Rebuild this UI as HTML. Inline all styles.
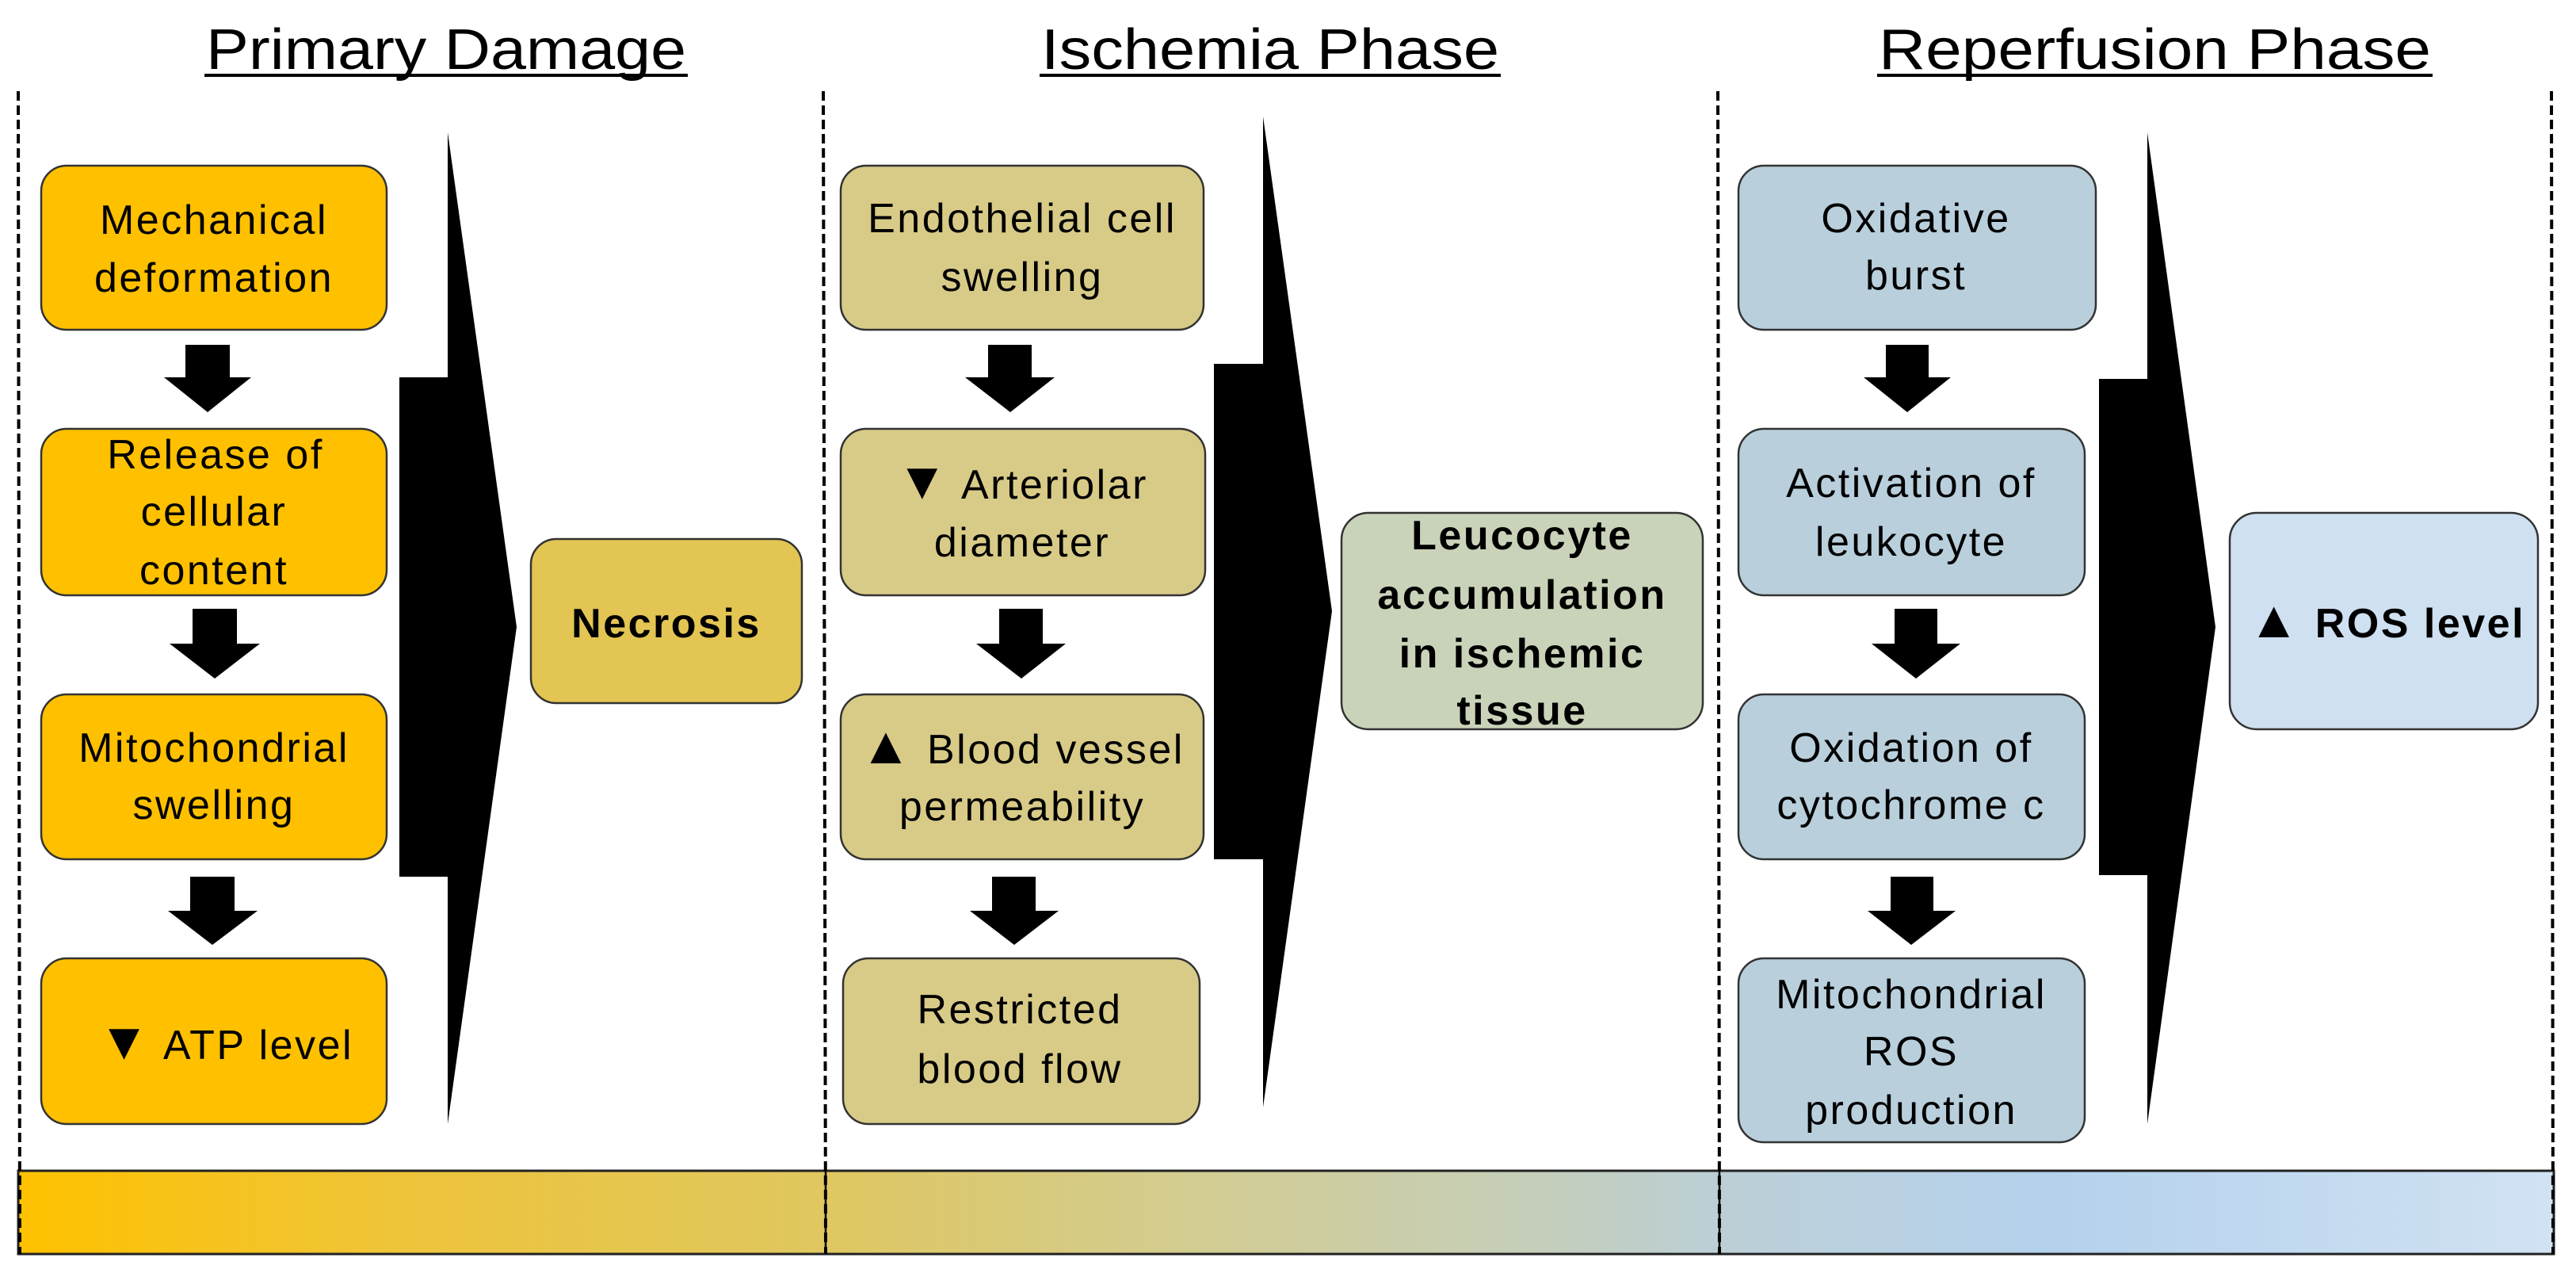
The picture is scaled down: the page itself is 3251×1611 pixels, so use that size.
<!DOCTYPE html>
<html><head><meta charset="utf-8"><style>
html,body{margin:0;padding:0;background:#fff;}
svg{display:block;}
text{font-family:"Liberation Sans",sans-serif;fill:#000;}
.t{font-size:52px;text-anchor:middle;letter-spacing:2.5px;}
.b{font-weight:bold;}
.h{font-size:72px;}
.tri{font-size:66px;}
</style></head><body>
<svg width="3251" height="1611" viewBox="0 0 3251 1611" xmlns="http://www.w3.org/2000/svg">
<defs>
<linearGradient id="g" x1="0" x2="1" y1="0" y2="0">
<stop offset="0" stop-color="#ffc200"/>
<stop offset="0.15" stop-color="#eec43a"/>
<stop offset="0.31" stop-color="#e0c75e"/>
<stop offset="0.46" stop-color="#d3cc90"/>
<stop offset="0.6" stop-color="#c4ceba"/>
<stop offset="0.67" stop-color="#bccfd6"/>
<stop offset="0.8" stop-color="#b4d1ec"/>
<stop offset="1" stop-color="#d1e2f3"/>
</linearGradient>
</defs>
<text class="h" x="260" y="87" textLength="606" lengthAdjust="spacingAndGlyphs">Primary Damage</text>
<rect x="258" y="93" width="610" height="4" fill="#000"/>
<text class="h" x="1314" y="87" textLength="578" lengthAdjust="spacingAndGlyphs">Ischemia Phase</text>
<rect x="1312" y="93" width="582" height="4" fill="#000"/>
<text class="h" x="2371" y="87" textLength="697" lengthAdjust="spacingAndGlyphs">Reperfusion Phase</text>
<rect x="2369" y="93" width="701" height="4" fill="#000"/>
<rect x="23" y="1477" width="3200" height="105" fill="url(#g)" stroke="#222" stroke-width="3"/>
<g stroke="#000" stroke-width="4" stroke-dasharray="12,6">
<line x1="23" y1="115" x2="25" y2="1582"/>
<line x1="1039" y1="115" x2="1042" y2="1582"/>
<line x1="2168" y1="115" x2="2170" y2="1582"/>
<line x1="3220" y1="115" x2="3222" y2="1582"/>
</g>
<g stroke="#000" stroke-width="2.5">
<line x1="1042" y1="1477" x2="1042" y2="1582"/>
<line x1="2170" y1="1477" x2="2170" y2="1582"/>
</g>
<g fill="#ffc000" stroke="#333" stroke-width="2.5">
<rect x="52" y="209" width="436" height="207" rx="32"/>
<rect x="52" y="541" width="436" height="210" rx="32"/>
<rect x="52" y="876" width="436" height="208" rx="32"/>
<rect x="52" y="1209" width="436" height="209" rx="32"/>
</g>
<rect x="670" y="680" width="342" height="207" rx="32" fill="#e3c553" stroke="#333" stroke-width="2.5"/>
<text class="t" x="270" y="295">Mechanical</text><text class="t" x="270" y="368">deformation</text>
<text class="t" x="272" y="591">Release of</text><text class="t" x="270" y="663">cellular</text><text class="t" x="270" y="737">content</text>
<text class="t" x="270" y="961">Mitochondrial</text><text class="t" x="270" y="1033">swelling</text>
<text class="t" x="285" y="1336"><tspan class="tri">▼</tspan> ATP level</text>
<text class="t b" x="841" y="804">Necrosis</text>
<g fill="#d8cb87" stroke="#333" stroke-width="2.5">
<rect x="1061" y="209" width="458" height="207" rx="32"/>
<rect x="1061" y="541" width="460" height="210" rx="32"/>
<rect x="1061" y="876" width="458" height="208" rx="32"/>
<rect x="1064" y="1209" width="450" height="209" rx="32"/>
</g>
<rect x="1693" y="647" width="456" height="273" rx="34" fill="#c9d3b9" stroke="#333" stroke-width="2.5"/>
<text class="t" x="1290" y="293">Endothelial cell</text><text class="t" x="1290" y="367">swelling</text>
<text class="t" x="1290" y="629"><tspan class="tri">▼</tspan> Arteriolar</text><text class="t" x="1290" y="702">diameter</text>
<text class="t" x="1290" y="963"><tspan class="tri">▲</tspan> Blood vessel</text><text class="t" x="1290" y="1035">permeability</text>
<text class="t" x="1287" y="1291">Restricted</text><text class="t" x="1287" y="1366">blood flow</text>
<text class="t b" x="1921" y="693">Leucocyte</text><text class="t b" x="1921" y="768">accumulation</text><text class="t b" x="1921" y="842">in ischemic</text><text class="t b" x="1921" y="914">tissue</text>
<g fill="#b9cfdc" stroke="#333" stroke-width="2.5">
<rect x="2194" y="209" width="451" height="207" rx="32"/>
<rect x="2194" y="541" width="437" height="210" rx="32"/>
<rect x="2194" y="876" width="437" height="208" rx="32"/>
<rect x="2194" y="1209" width="437" height="232" rx="32"/>
</g>
<rect x="2814" y="647" width="389" height="273" rx="34" fill="#cfe0f1" stroke="#333" stroke-width="2.5"/>
<text class="t" x="2418" y="293">Oxidative</text><text class="t" x="2418" y="365">burst</text>
<text class="t" x="2412" y="627">Activation of</text><text class="t" x="2412" y="701">leukocyte</text>
<text class="t" x="2412" y="961">Oxidation of</text><text class="t" x="2412" y="1033">cytochrome c</text>
<text class="t" x="2412" y="1272">Mitochondrial</text><text class="t" x="2412" y="1344">ROS</text><text class="t" x="2412" y="1418">production</text>
<text class="t b" x="3012" y="804"><tspan class="tri">▲</tspan> ROS level</text>
<g fill="#000">
<polygon points="234,435 290,435 290,476 317,476 262,520 207,476 234,476"/>
<polygon points="243,768 299,768 299,812 328,812 271,856 214,812 243,812"/>
<polygon points="240,1106 296,1106 296,1149 325,1149 268,1192 212,1149 240,1149"/>
<polygon points="1247,435 1302,435 1302,476 1331,476 1275,520 1218,476 1247,476"/>
<polygon points="1261,768 1316,768 1316,812 1345,812 1289,856 1232,812 1261,812"/>
<polygon points="1252,1106 1307,1106 1307,1149 1336,1149 1280,1192 1224,1149 1252,1149"/>
<polygon points="2380,435 2434,435 2434,476 2462,476 2407,520 2352,476 2380,476"/>
<polygon points="2391,768 2445,768 2445,812 2474,812 2418,856 2362,812 2391,812"/>
<polygon points="2386,1106 2440,1106 2440,1149 2468,1149 2412,1192 2357,1149 2386,1149"/>
<polygon points="504,476 565,476 565,167 652,791 565,1418 565,1106 504,1106"/>
<polygon points="1532,459 1594,459 1594,147 1681,771 1594,1397 1594,1084 1532,1084"/>
<polygon points="2649,478 2710,478 2710,167 2796,791 2710,1418 2710,1104 2649,1104"/>
</g>
</svg>
</body></html>
